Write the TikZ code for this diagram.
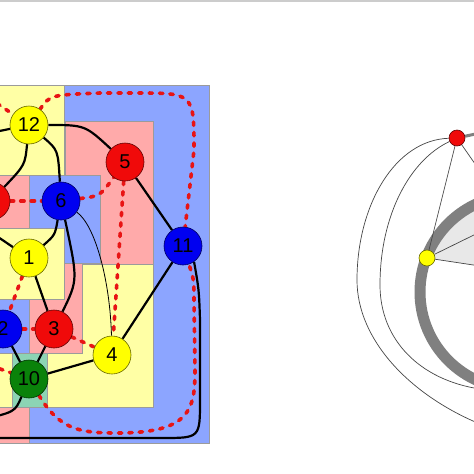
\documentclass[tikz,border=0pt]{standalone}
\usepackage{fontspec}
\setmainfont{Liberation Sans}
\definecolor{rBlue}{RGB}{140,165,255}
\definecolor{rPink}{RGB}{255,170,170}
\definecolor{rYel}{RGB}{255,255,165}
\definecolor{rTeal}{RGB}{140,212,180}
\definecolor{rBord}{RGB}{155,155,155}
\definecolor{nYel}{RGB}{255,255,0}
\definecolor{nRed}{RGB}{240,10,10}
\definecolor{nBlue}{RGB}{0,0,240}
\definecolor{nGreen}{RGB}{10,130,10}
\definecolor{dRed}{RGB}{232,20,20}
\definecolor{ringGray}{RGB}{128,128,128}
\definecolor{fanGray}{RGB}{232,232,232}
\definecolor{thinGray}{RGB}{70,70,70}
\pgfdeclarelayer{bglayer}
\pgfdeclarelayer{edgelayer}
\pgfsetlayers{bglayer,edgelayer,main}
\tikzset{
  region/.style={draw=rBord, line width=0.8pt},
  vtx/.style={circle, draw, line width=0.6pt, minimum size=38pt, inner sep=0pt,
    font=\fontsize{20}{20}\selectfont},
  yv/.style={vtx, fill=nYel, draw=black!60!nYel},
  rv/.style={vtx, fill=nRed, draw=black!60!nRed},
  bv/.style={vtx, fill=nBlue, draw=black!60!nBlue},
  gv/.style={vtx, fill=nGreen, draw=black!60!nGreen},
  sv/.style={circle, draw, line width=0.6pt, minimum size=16pt, inner sep=0pt},
  solidedge/.style={line width=2.2pt, black},
  thinedge/.style={line width=0.8pt, black},
  dashedge/.style={line width=3.6pt, dRed, line cap=round, dash pattern=on 3.4pt off 7pt},
  arcedge/.style={line width=0.7pt, thinGray},
}
\begin{document}
\begin{tikzpicture}[x=1pt, y=-1pt]
\clip (0,0) rectangle (474,474);

\begin{pgfonlayer}{bglayer}
\fill[white] (0,0) rectangle (474,474);
\draw[line width=2.5pt, gray!40] (0,0.5) -- (474,0.5);
% ---------- left diagram: regions ----------
\filldraw[region, fill=rBlue] (-5,85) rectangle (209,443);
\filldraw[region, fill=rPink] (-5,407) rectangle (29,443);
\filldraw[region, fill=rYel] (-5,85) rectangle (64,175);
\filldraw[region, fill=rPink] (65,121) rectangle (153,264);
\filldraw[region, fill=rPink] (-5,175) rectangle (29,228);
\filldraw[region, fill=rBlue] (29,175) rectangle (100,263);
\filldraw[region, fill=rYel] (-5,264) rectangle (153,407);
\filldraw[region, fill=rPink] (29,263) rectangle (82,353);
\filldraw[region, fill=rBlue] (-5,299) rectangle (29,353);
\filldraw[region, fill=rYel] (-5,228) rectangle (64,299);
\filldraw[region, fill=rTeal] (12,353) rectangle (47,407);
\end{pgfonlayer}

% ---------- left diagram: vertices ----------
\node[yv] (n12) at (29,125) {12};
\node[rv] (n5) at (125,162) {5};
\node[rv] (nL) at (-9,201) {};
\node[bv] (n6) at (61,201) {6};
\node[yv] (n1) at (29,258) {1};
\node[bv] (n11) at (183,246) {11};
\node[bv] (n2) at (3,329) {2};
\node[rv] (n3) at (54,329) {3};
\node[yv] (n4) at (112,355) {4};
\node[gv] (n10) at (29,379) {10};

\coordinate (offA) at (-30,137);
\coordinate (offB) at (-30,218);
\coordinate (offC) at (-20,420);
\coordinate (offD) at (-20,438);
\coordinate (offE) at (-20,92);
\coordinate (offF) at (-20,362);

\begin{pgfonlayer}{edgelayer}
% ---------- solid edges ----------
\draw[solidedge] (n12) -- (offA);
\draw[solidedge] (n12) .. controls (25,165) .. (nL);
\draw[solidedge] (n12) .. controls (58,150) .. (n6);
\draw[solidedge] (n12) .. controls (85,125) .. (n5);
\draw[solidedge] (n5) -- (n11);
\draw[solidedge] (n6) .. controls (55,235) .. (n1);
\draw[solidedge] (n6) .. controls (78,280) .. (n3);
\draw[thinedge] (n6) .. controls (95,225) and (110,280) .. (n4);
\draw[solidedge] (n1) -- (offB);
\draw[solidedge] (n1) -- (n3);
\draw[solidedge] (n2) -- (n10);
\draw[solidedge] (n3) -- (n10);
\draw[solidedge] (n10) -- (n4);
\draw[solidedge] (n4) -- (n11);
\draw[solidedge] (n10) .. controls (15,412) .. (offC);
\draw[solidedge] (n11.-55) .. controls (199,290) .. (200,320) -- (200,400)
   .. controls (200,438) .. (162,438) -- (offD);
% ---------- dashed edges ----------
\draw[dashedge] (offE) -- (n12);
\draw[dashedge] (n12) .. controls (50,95) .. (100,93) -- (135,93)
   .. controls (194,93) .. (194,150) -- (n11);
\draw[dashedge] (nL) -- (n6);
\draw[dashedge] (n6) .. controls (100,196) .. (n5);
\draw[dashedge] (n5) -- (n4);
\draw[dashedge] (n1) -- (n2);
\draw[dashedge] (n2) -- (n3);
\draw[dashedge] (n3) -- (n4);
\draw[dashedge] (offF) -- (n10);
\draw[dashedge] (n10) .. controls (60,430) and (80,433) .. (117,433)
   .. controls (190,433) and (195,410) .. (195,370) -- (194,300)
   .. controls (194,280) .. (n11.-72);
\end{pgfonlayer}

% ---------- right diagram ----------
\coordinate (ringC) at (517,292);
\node[sv, fill=nRed, draw=black!60!nRed] (nr) at (457,138) {};
\node[sv, fill=nYel, draw=black!60!nYel] (ny) at (427,258) {};
\coordinate (eA) at (480,232);
\coordinate (eB) at (480,266);
\coordinate (eC) at (480,171);
\coordinate (eD) at (480,133);
\coordinate (eE) at (480,424);
\coordinate (eF) at (480,389);

\begin{pgfonlayer}{edgelayer}
\begin{scope}
  \clip (ringC) circle (92);
  \fill[fanGray] (ny.center) -- (eB) -- (480,150) -- (400,150) -- cycle;
\end{scope}
\draw[line width=11pt, ringGray] (ringC) circle (97);
\draw[arcedge] (ny) -- (eA);
\draw[arcedge] (ny) -- (eB);
\draw[arcedge] (nr) -- (ny);
\draw[arcedge] (nr) -- (eC);
\draw[line width=3pt, ringGray] (nr) -- (eD);
\draw[arcedge] (nr) .. controls (395,140) and (357,205) .. (357,280)
   .. controls (357,340) and (410,395) .. (eE);
\draw[arcedge] (nr) .. controls (410,160) and (380,215) .. (380,285)
   .. controls (380,340) and (420,380) .. (eF);
\end{pgfonlayer}
\end{tikzpicture}
\end{document}
